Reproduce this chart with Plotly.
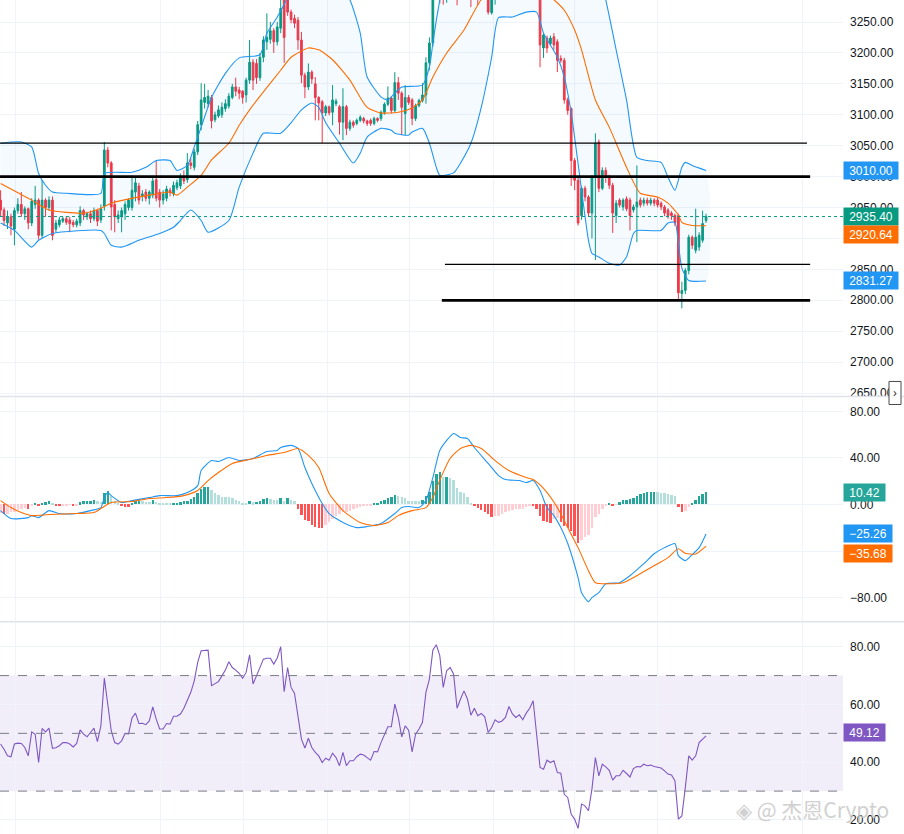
import plotly.graph_objects as go
from plotly.subplots import make_subplots

# ---------------- candle data (index = bar number) ----------------
opens = [
 2962,2946,2925,2935,2915,2945,2955,2940,2948,2925,
 2955,2962,2905,2962,2950,2962,2915,2922,2928,2932,
 2930,2926,2922,2925,2945,2935,2940,2932,2945,2930,
 2952,3043,3022,2955,2932,2935,2940,2950,2950,2975,
 2985,2968,2975,2965,2970,2995,2975,2962,2965,2978,
 2972,2982,2985,3000,2995,3022,3015,3040,3084,3120,
 3118,3128,3092,3098,3100,3110,3114,3128,3145,3140,
 3138,3132,3156,3185,3183,3160,3193,3218,3222,3236,
 3218,3240,3292,3295,3266,3256,3253,3221,3164,3145,
 3169,3150,3128,3121,3103,3113,3104,3118,3113,3088,
 3113,3078,3088,3086,3091,3094,3090,3091,3086,3094,
 3094,3104,3117,3127,3107,3152,3135,3102,3128,3124,
 3094,3115,3123,3132,3184,3216,3290,3322,3312,3290,
 3304,3310,3305,3290,3296,3302,3296,3288,3293,3289,
 3291,3288,3265,3288,3294,3292,3293,3296,3308,3302,
 3299,3302,3296,3304,3309,3316,3292,3208,3224,3215,
 3226,3218,3191,3188,3124,3110,3026,2994,2937,2981,
 2967,2941,2999,3056,2981,3010,2999,2986,2937,2962,
 2951,2964,2962,2946,2951,2962,2957,2962,2957,2962,
 2962,2957,2951,2946,2941,2937,2937,2811,2816,2848,
 2902,2881,2886,2897,2929]
highs = [
 2978,2950,2945,2940,2950,2965,2975,2952,2950,2965,
 2985,2965,2994,2965,2968,2968,2930,2935,2935,2936,
 2935,2930,2932,2952,2948,2943,2945,2950,2948,2955,
 3056,3048,3025,2962,2945,2950,2960,2965,3002,2998,
 2990,2978,2980,2978,2998,3026,2980,2978,2985,2982,
 2992,2995,3005,3010,3038,3030,3045,3090,3151,3150,
 3140,3132,3105,3115,3120,3125,3135,3150,3160,3145,
 3140,3160,3221,3190,3190,3200,3227,3264,3250,3240,
 3250,3292,3300,3305,3270,3262,3258,3234,3168,3183,
 3172,3161,3130,3124,3116,3115,3148,3126,3116,3143,
 3116,3092,3091,3094,3099,3097,3092,3094,3097,3096,
 3107,3120,3146,3130,3169,3161,3138,3148,3132,3127,
 3118,3126,3151,3193,3225,3296,3330,3330,3318,3310,
 3318,3316,3308,3300,3306,3306,3300,3298,3296,3296,
 3294,3292,3292,3298,3300,3298,3300,3312,3312,3306,
 3306,3305,3308,3312,3320,3320,3296,3232,3228,3228,
 3232,3222,3196,3192,3128,3112,3030,2998,2985,2985,
 2970,3002,3070,3060,3015,3015,3003,2990,2962,2965,
 2965,2968,2966,2955,3018,2966,2966,2966,2966,2965,
 2966,2960,2954,2949,2944,2940,2940,2830,2852,2906,
 2905,2948,2910,2945,2940]
lows = [
 2935,2920,2915,2905,2889,2940,2935,2930,2915,2920,
 2948,2898,2900,2935,2945,2897,2910,2918,2925,2922,
 2910,2918,2918,2920,2930,2930,2925,2928,2920,2925,
 2945,3015,2913,2910,2925,2910,2930,2945,2945,2960,
 2955,2960,2960,2955,2965,2960,2950,2955,2960,2968,
 2968,2978,2980,2988,2990,3012,3010,3035,3075,3110,
 3112,3078,3088,3095,3095,3105,3110,3125,3130,3125,
 3118,3120,3150,3140,3150,3155,3185,3205,3215,3200,
 3212,3232,3184,3260,3248,3240,3205,3151,3127,3140,
 3150,3091,3091,3054,3098,3099,3083,3114,3068,3059,
 3067,3074,3079,3083,3088,3086,3082,3082,3083,3088,
 3090,3100,3114,3102,3104,3124,3067,3067,3116,3083,
 3090,3112,3120,3118,3172,3210,3286,3280,3278,3281,
 3298,3296,3277,3287,3291,3290,3274,3286,3277,3286,
 3286,3262,3262,3278,3288,3288,3289,3292,3298,3294,
 3295,3292,3294,3300,3305,3286,3177,3192,3200,3212,
 3205,3169,3184,3118,3100,2985,2978,2921,2930,2960,
 2935,2900,2865,2975,2978,2990,2980,2909,2925,2950,
 2945,2944,2913,2942,2894,2950,2952,2953,2953,2952,
 2950,2946,2936,2932,2930,2920,2800,2787,2810,2842,
 2883,2876,2880,2893,2925]
closes = [
 2946,2929,2935,2920,2945,2955,2940,2948,2925,2960,
 2962,2905,2962,2950,2962,2905,2925,2930,2932,2926,
 2924,2922,2928,2945,2938,2940,2932,2945,2928,2948,
 3043,3022,2951,2935,2938,2945,2955,2962,2978,2990,
 2962,2972,2965,2975,2993,2965,2962,2972,2980,2974,
 2986,2990,3000,2993,3022,3018,3040,3084,3124,3128,
 3130,3090,3100,3108,3112,3118,3130,3145,3138,3135,
 3128,3156,3185,3156,3160,3193,3221,3225,3236,3218,
 3242,3272,3225,3266,3254,3248,3221,3164,3145,3169,
 3158,3128,3119,3103,3113,3103,3124,3122,3088,3113,
 3078,3088,3083,3091,3096,3090,3086,3086,3094,3091,
 3104,3117,3127,3107,3152,3135,3112,3128,3120,3094,
 3115,3123,3132,3184,3216,3290,3322,3312,3290,3304,
 3310,3305,3290,3296,3302,3296,3288,3293,3289,3291,
 3288,3266,3288,3294,3292,3293,3296,3308,3302,3299,
 3302,3296,3304,3309,3316,3292,3213,3229,3208,3224,
 3213,3188,3188,3124,3107,3026,2994,2925,2981,2967,
 2941,2999,3054,2981,3010,2999,2986,2941,2957,2954,
 2962,2948,2937,2951,2959,2954,2962,2957,2962,2957,
 2954,2951,2941,2937,2937,2925,2812,2816,2848,2902,
 2889,2902,2905,2924,2935.4]

# ---------------- Bollinger bands (bar index, value) ----------------
bb_upper_idx = [0,6,9,11,13,15,19,29,30,38,42,45,49,51,54,56,58,61,65,69,75,77,80,83,86,90,94,98,101,
                104,106,110,112,114,116,122,124,125,126,127,128,131,135,139,143,148,152,155,158,162,166,
                170,173,175,178,181,184,187,191,193,195,197,198,200,204]
bb_upper = [3054,3056,3048,3005,2986,2975,2973,2973,3005,3007,3015,3026,3026,3010,3018,3048,3080,3128,3167,
            3192,3197,3232,3258,3290,3330,3345,3335,3310,3286,3232,3161,3129,3124,3135,3145,3148,3177,3216,
            3253,3286,3330,3390,3430,3425,3370,3345,3335,3340,3380,3410,3390,3380,3330,3286,3205,3124,3031,
            3026,3023,2999,2978,3015,3023,3018,3010.00]
bb_mid_idx = [0,9,14,24,29,32,43,49,51,54,58,61,66,69,72,76,81,84,89,92,96,101,106,110,115,119,122,125,
              129,134,139,143,148,153,157,160,163,166,168,172,176,181,185,190,193,196,197,200,204]
bb_mid = [2989,2962,2946,2941,2949,2957,2970,2975,2970,2983,3002,3027,3054,3083,3108,3137,3172,3193,3208,
          3205,3189,3156,3112,3103,3104,3111,3124,3161,3200,3237,3286,3302,3312,3308,3298,3286,3269,3237,
          3205,3124,3080,3015,2973,2967,2957,2938,2926,2921,2920.64]
bb_lower_idx = [0,4,9,11,15,29,30,32,35,40,46,50,52,55,58,60,66,69,73,76,81,84,87,90,92,94,98,102,104,
                106,110,113,114,118,119,122,124,126,127,131,133,136,139,142,144,148,152,155,157,161,163,
                165,168,170,171,173,176,179,181,183,184,191,193,195,196,197,199,204]
bb_lower = [2925,2913,2886,2897,2908,2913,2908,2889,2886,2897,2908,2918,2929,2946,2929,2910,2929,2983,3038,
            3070,3070,3087,3108,3119,3112,3087,3054,3022,3038,3064,3078,3075,3070,3067,3072,3078,3054,3015,
            3002,3006,3022,3054,3112,3193,3257,3258,3266,3266,3232,3193,3161,3103,2978,2897,2876,2870,2860,
            2857,2870,2908,2913,2913,2925,2926,2892,2852,2832,2831.27]

# ---------------- drawn levels ----------------
level_price = [3054, 3000, 2858, 2800]
level_from = [-5, -5, 128.5, 127.6]
level_to = [233.2, 234.1, 234.1, 234.1]
level_thick = [1.3, 2.7, 1.3, 2.7]

# ---------------- MACD ----------------
macd_idx = [0,3,8,9,11,14,17,22,26,29,30,31,32,35,38,43,46,51,54,57,58,61,63,66,69,73,77,80,81,84,86,88,
            90,93,95,99,103,106,110,114,116,118,121,123,125,127,129,131,133,135,137,141,144,146,150,152,
            154,156,158,160,162,164,167,168,170,171,173,175,179,182,186,189,192,195,196,198,200,202,204]
macd_line = [-5.2,-12.0,-11.2,-9.5,-11.2,-5.2,-7.7,-7.7,-5.2,-2.6,6.0,10.3,7.7,1.7,3.4,6.0,7.7,7.7,10.3,
             16.3,29.2,37.8,37.0,40.4,37.8,39.6,45.6,46.5,49.0,50.8,48.2,31.8,18.1,0.9,-7.7,-15.5,-19.8,
             -18.9,-16.3,-7.7,-2.6,-1.7,-2.6,3.4,23.2,46.5,55.1,61.1,57.6,56.8,49.0,35.3,24.9,21.5,20.6,
             18.9,20.6,12.0,-2.6,-9.5,-19.8,-33.5,-62.8,-75.7,-83.4,-80.0,-75.7,-68.0,-67.1,-61.1,-50.8,
             -42.2,-37.0,-33.5,-43.9,-48.2,-43.0,-37.0,-25.26]
signal_idx = [0,3,6,9,14,22,27,29,32,38,43,48,53,57,60,63,67,72,77,82,86,89,92,95,99,104,108,112,115,119,
              123,125,127,130,133,136,139,143,147,152,154,157,161,164,167,170,172,176,180,185,190,193,196,
              198,201,204]
signal_line = [3.4,-2.6,-6.9,-9.5,-8.6,-7.7,-6.9,-3.4,1.7,2.6,5.2,6.0,7.7,12.0,20.6,27.5,35.3,38.7,42.2,
               44.7,48.2,42.2,31.8,9.5,-5.2,-15.5,-18.1,-15.5,-9.5,-5.2,-2.6,6.0,21.0,39.6,48.2,50.8,48.2,
               37.8,29.2,23.2,21.5,13.8,-2.6,-19.8,-37.0,-56.8,-67.1,-68.0,-67.1,-59.4,-50.8,-45.6,-38.0,
               -41.9,-42.4,-35.68]
hist = [
 -7.5,-8.6,-8.6,-7.2,-6.6,-5.2,-4.3,-3.7,-3.9,-1.4,
 0.6,-2.0,0.9,1.4,2.9,1.1,-0.9,-1.0,-0.9,-0.8,
 -0.7,-0.9,-0.8,1.7,2.6,2.6,2.7,3.2,2.3,2.2,
 9.5,11.2,6.6,2.9,0.9,-2.0,-2.1,-2.2,0.6,2.3,
 2.9,2.8,2.0,1.9,3.7,2.0,0.9,0.6,0.5,0.4,
 0.6,0.9,1.4,2.3,2.9,4.3,5.7,9.5,12.9,14.3,
 14.4,12.3,9.5,7.7,6.3,6.2,6.1,4.9,3.7,2.6,
 0.9,0.8,2.6,1.7,2.0,2.6,4.3,4.9,4.8,3.4,
 3.3,4.9,2.9,4.9,3.4,2.3,-4.3,-9.2,-13.8,-14.9,
 -18.1,-19.5,-20.1,-20.2,-18.1,-15.2,-12.9,-10.6,-8.6,-7.2,
 -6.6,-5.7,-4.3,-3.7,-2.9,-2.0,-1.4,-0.9,0.6,1.1,
 2.3,3.7,5.4,6.3,7.7,7.2,5.7,5.6,2.9,2.8,
 2.7,2.6,3.4,7.2,10.6,20.0,25.8,27.8,22.9,22.9,
 22.8,20.9,13.5,10.0,9.5,5.7,0.9,-1.4,-3.7,-4.9,
 -6.6,-8.6,-11.5,-10.0,-10.0,-8.6,-7.2,-5.7,-5.2,-4.3,
 -4.3,-4.2,-2.9,-1.4,-1.5,-4.3,-10.6,-14.3,-15.8,-15.9,
 -12.9,-12.0,-15.8,-18.6,-20.1,-22.9,-27.8,-33.0,-30.5,-28.1,
 -26.7,-20.1,-11.5,-8.6,-4.3,-0.9,0.6,-0.9,-0.6,1.4,
 3.4,3.5,4.3,4.9,6.6,8.9,9.5,10.0,10.1,10.2,
 10.0,9.9,9.5,8.6,7.7,6.6,-2.9,-6.6,-5.7,-2.3,
 0.6,3.4,6.6,8.6,10.42]

# ---------------- RSI ----------------
rsi = [
 46.3,44.5,42.2,41.9,46.3,46.6,46.5,45.1,42.2,50.5,
 49.7,39.9,51.7,50.5,51.8,44.8,45.0,45.7,46.8,46.8,
 46.3,45.3,46.5,51.2,49.7,48.8,50.3,51.8,47.1,52.6,
 69.1,60.1,50.9,46.8,46.3,47.4,50.0,49.8,55.3,57.0,
 53.4,53.5,53.0,54.3,59.2,54.9,51.5,51.5,53.4,53.2,
 55.9,55.9,56.7,58.7,61.3,64.2,68.2,74.6,78.6,78.8,
 78.8,66.5,67.3,67.9,69.9,71.9,74.8,72.8,71.9,70.8,
 69.1,71.1,77.2,67.1,69.9,72.6,75.7,76.0,76.0,74.0,
 76.1,80.0,64.4,72.8,65.9,63.8,55.5,48.0,44.9,48.3,
 45.1,43.4,42.2,39.9,41.4,40.7,43.1,41.6,38.8,43.4,
 38.8,40.5,40.5,41.9,42.8,42.5,41.6,40.7,43.7,43.6,
 46.8,49.7,52.3,52.3,60.1,55.5,48.8,52.6,51.1,43.6,
 49.7,51.5,53.8,64.2,68.8,78.8,80.7,76.9,65.9,71.7,
 72.8,70.5,58.7,61.9,64.7,61.9,56.3,58.7,56.1,56.9,
 55.7,50.3,52.0,54.7,53.8,54.3,55.5,59.3,56.7,55.5,
 56.4,54.7,57.0,58.7,61.3,49.7,38.2,37.6,40.7,39.9,
 40.5,36.4,36.2,28.9,27.8,22.0,20.3,17.1,25.5,24.9,
 23.2,30.7,41.6,35.3,39.3,38.4,37.2,33.8,35.3,35.3,
 37.2,36.1,34.9,37.8,38.5,38.4,39.3,38.8,39.0,38.5,
 38.2,38.0,37.0,35.9,35.6,33.6,20.3,21.4,31.2,42.2,
 40.7,42.2,46.8,48.0,49.12]

price_ticks = [2650, 2700, 2750, 2800, 2850, 2900, 2950, 3000, 3050, 3100, 3150, 3200, 3250]
macd_ticks = [-80, -40, 0, 40, 80]
rsi_ticks = [20, 40, 60, 80]
time_grid = [4.45, 46.1, 70.1, 94.4, 118.1, 142.4, 166.1, 190.1, 232.0]

n = len(closes)
for arr in (opens, highs, lows, hist, rsi):
    if len(arr) != n:
        raise ValueError("length mismatch %d vs %d" % (len(arr), n))
idx = list(range(n))

UP, DOWN = "#089981", "#f23645"
BLUE, ORANGE, PURPLE = "#2196f3", "#ff6d00", "#7e57c2"
FONT = "Liberation Sans, Arial, sans-serif"
H = 840  # page height compensating the viewer's vertical fit

fig = make_subplots(rows=3, cols=1, shared_xaxes=True, vertical_spacing=0)

smooth = dict(shape="spline", smoothing=0.6)
# Bollinger fill
fig.add_trace(go.Scatter(x=bb_upper_idx + bb_lower_idx[::-1], y=bb_upper + bb_lower[::-1],
                         fill="toself", fillcolor="rgba(33,150,243,0.05)", line=dict(width=0, **smooth),
                         hoverinfo="skip", showlegend=False), row=1, col=1)
fig.add_trace(go.Scatter(x=bb_upper_idx, y=bb_upper, mode="lines", line=dict(color=BLUE, width=1.1, **smooth),
                         showlegend=False), row=1, col=1)
fig.add_trace(go.Scatter(x=bb_lower_idx, y=bb_lower, mode="lines", line=dict(color=BLUE, width=1.1, **smooth),
                         showlegend=False), row=1, col=1)
fig.add_trace(go.Scatter(x=bb_mid_idx, y=bb_mid, mode="lines", line=dict(color=ORANGE, width=1.1, **smooth),
                         showlegend=False), row=1, col=1)
fig.add_trace(go.Candlestick(x=idx, open=opens, high=highs, low=lows, close=closes,
                             increasing=dict(line=dict(color=UP, width=1), fillcolor=UP),
                             decreasing=dict(line=dict(color=DOWN, width=1), fillcolor=DOWN),
                             whiskerwidth=0, showlegend=False), row=1, col=1)

# MACD histogram colours
hcol = []
for k, v in enumerate(hist):
    prev = hist[k - 1] if k > 0 else v
    if v >= 0:
        hcol.append("#26a69a" if v >= prev else "#b2dfdb")
    else:
        hcol.append("#ff5252" if v < prev else "#ffcdd2")
fig.add_trace(go.Bar(x=idx, y=hist, marker=dict(color=hcol, line=dict(width=0)), width=0.7,
                     showlegend=False), row=2, col=1)
fig.add_trace(go.Scatter(x=macd_idx, y=macd_line, mode="lines", line=dict(color=BLUE, width=1.1, **smooth),
                         showlegend=False), row=2, col=1)
fig.add_trace(go.Scatter(x=signal_idx, y=signal_line, mode="lines", line=dict(color=ORANGE, width=1.1, **smooth),
                         showlegend=False), row=2, col=1)

fig.add_trace(go.Scatter(x=idx, y=rsi, mode="lines", line=dict(color=PURPLE, width=1.1),
                         showlegend=False), row=3, col=1)

xr = [-0.17, 243.6]
xcommon = dict(range=xr, showticklabels=False, tickvals=time_grid, showgrid=True,
               gridcolor="#f0f3fa", gridwidth=1, zeroline=False, showline=False, ticks="",
               rangeslider=dict(visible=False))
ycommon = dict(side="right", showgrid=True, gridcolor="#f0f3fa", zeroline=False, showline=False,
               ticks="", tickformat=".2f", ticklabelstandoff=6,
               tickfont=dict(family=FONT, size=12, color="#131722"))

fig.update_layout(
    width=904, height=H, autosize=False, margin=dict(l=0, r=61, t=0, b=0),
    paper_bgcolor="white", plot_bgcolor="white", showlegend=False, bargap=0,
    xaxis=xcommon, xaxis2=xcommon, xaxis3=xcommon,
    yaxis=dict(ycommon, domain=[0.5264, 1.0], range=[2646.1, 3285.6], tickvals=price_ticks),
    yaxis2=dict(ycommon, domain=[0.2566, 0.524], range=[-99.8, 92.0], tickvals=macd_ticks),
    yaxis3=dict(ycommon, domain=[0.0, 0.2542], range=[14.8, 88.3], tickvals=rsi_ticks),
)

shapes = []
# RSI band and dashed levels
shapes.append(dict(type="rect", xref="x3 domain", yref="y3", x0=0, x1=1, y0=30, y1=70,
                   fillcolor="rgba(126,87,194,0.1)", line=dict(width=0), layer="below"))
for lv in (70, 50, 30):
    shapes.append(dict(type="line", xref="x3 domain", yref="y3", x0=0, x1=1, y0=lv, y1=lv,
                       line=dict(color="#787b86", width=1, dash="dash")))
# drawn horizontal levels
for p, a, b, w in zip(level_price, level_from, level_to, level_thick):
    shapes.append(dict(type="line", xref="x", yref="y", x0=a, x1=b, y0=p, y1=p,
                       line=dict(color="#000000", width=w)))
# last price dotted
shapes.append(dict(type="line", xref="x domain", yref="y", x0=0, x1=1, y0=closes[-1], y1=closes[-1],
                   line=dict(color=UP, width=1, dash="dot")))
# pane separators
for yy in (1 - 396 / 834, 1 - 621 / 834):
    shapes.append(dict(type="line", xref="paper", yref="paper", x0=0, x1=904 / 843, y0=yy, y1=yy,
                       line=dict(color="#e0e3eb", width=1.5)))
# scroll button
shapes.append(dict(type="rect", xref="paper", yref="paper", x0=889 / 843, x1=901 / 843,
                   y0=1 - 404 / 834, y1=1 - 381 / 834, line=dict(color="#4a4a4a", width=1),
                   fillcolor="white"))
fig.update_layout(shapes=shapes)

def tag(text, yref, yval, color, w, yshift=0):
    return dict(text=text, xref="paper", x=1.0, xanchor="left", yref=yref, y=yval, yanchor="middle",
                yshift=yshift, showarrow=False, bgcolor=color, borderpad=2, width=w, height=13,
                align="center", font=dict(family=FONT, size=12, color="white"))

ann = [
    tag("3010.00", "y", bb_upper[-1], BLUE, 50),
    tag("2935.40", "y", closes[-1], UP, 50),
    tag("2920.64", "y", bb_mid[-1], ORANGE, 50, yshift=-9),
    tag("2831.27", "y", bb_lower[-1], BLUE, 50),
    tag("10.42", "y2", hist[-1], "#26a69a", 37),
    tag("\u221225.26", "y2", macd_line[-1], BLUE, 44),
    tag("\u221235.68", "y2", signal_line[-1], ORANGE, 44, yshift=-7),
    tag("49.12", "y3", rsi[-1], PURPLE, 37, yshift=3),
    dict(text="\u203a", xref="paper", yref="paper", x=895 / 843, y=1 - 392 / 834, xanchor="center",
         yanchor="middle", showarrow=False, font=dict(size=13, color="#333333")),
    dict(text="\u25c8 @ 杰恩Crypto", xref="paper", yref="paper", x=812 / 843, y=1 - 808 / 834,
         xanchor="center", yanchor="middle", showarrow=False,
         font=dict(family="Noto Sans CJK SC, sans-serif", size=21, color="#c9c9c9"), opacity=0.85),
]
fig.update_layout(annotations=ann)

fig.write_html("out.html", config={"displayModeBar": False, "responsive": False},
               default_width="904px", default_height="%dpx" % H,
               post_script="document.body.style.margin='0';document.body.style.padding='0';"
                           "document.documentElement.style.overflow='hidden';")
